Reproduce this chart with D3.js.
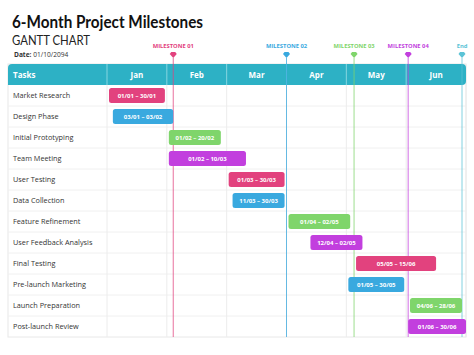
<!DOCTYPE html>
<html>
<head>
<meta charset="utf-8">
<script src="https://cdn.jsdelivr.net/npm/d3@7"></script>
<style>
  body { margin: 0; background: #fff; }
  svg { display: block; font-family: "Open Sans", sans-serif; }
</style>
</head>
<body>
<div id="chart"></div>
<script>
// data
var months = ["Jan", "Feb", "Mar", "Apr", "May", "Jun"];
var tasks = ["Market Research", "Design Phase", "Initial Prototyping", "Team Meeting",
  "User Testing", "Data Collection", "Feature Refinement", "User Feedback Analysis",
  "Final Testing", "Pre-launch Marketing", "Launch Preparation", "Post-launch Review"];
var starts = ["01/01", "03/01", "01/02", "01/02", "01/03", "11/03", "01/04", "12/04", "05/05", "01/05", "04/06", "01/06"];
var ends = ["30/01", "03/02", "20/02", "10/03", "30/03", "30/03", "02/05", "02/05", "15/06", "30/05", "28/06", "30/06"];
var barColors = ["pink", "blue", "green", "purple", "pink", "blue", "green", "purple", "pink", "blue", "green", "purple"];
var milestones = ["MILESTONE 01", "MILESTONE 02", "MILESTONE 03", "MILESTONE 04", "End"];
var milestoneDates = ["04/02", "01/04", "05/05", "02/06", "29/06"];
var milestoneColors = ["pink", "blue", "green", "purple", "teal"];

var palette = {
  pink: "#e2427e",
  blue: "#39a9df",
  green: "#7fd56b",
  purple: "#c23fde",
  teal: "#5bc3d6"
};

var width = 474, height = 355;
var tableLeft = 8, tableRight = 466, taskColW = 99;
var headerTop = 64, headerH = 21, rowH = 21;
var minBarW = 52;
var year = 2094;

var svg = d3.select("#chart").append("svg")
  .attr("width", width)
  .attr("height", height);

// "dd/mm" -> fractional month position (months drawn equal width)
function monthPos(s, endOfDay) {
  var p = s.split("/");
  var d = +p[0], m = +p[1] - 1;
  var days = new Date(year, m + 1, 0).getDate();
  return m + (d - (endOfDay ? 0 : 1)) / days;
}

var x = d3.scaleLinear()
  .domain([0, months.length])
  .range([tableLeft + taskColW, tableRight]);

var y = d3.scaleBand()
  .domain(tasks)
  .range([headerTop + headerH, headerTop + headerH + tasks.length * rowH]);

var bodyBottom = headerTop + headerH + tasks.length * rowH;

// bar extents, short bars are widened so the label fits
function barExtent(i) {
  var x0 = x(monthPos(starts[i], false)) + 2;
  var x1 = x(monthPos(ends[i], true));
  if (x1 - x0 < minBarW) {
    var p = ends[i].split("/");
    var lastDay = new Date(year, +p[1], 0).getDate();
    if (lastDay - +p[0] <= 3) x0 = x1 - minBarW;
    else x1 = x0 + minBarW;
  }
  return [x0, x1];
}

// titles
svg.append("text")
  .attr("x", 12).attr("y", 28)
  .attr("font-family", "Lato, sans-serif")
  .attr("font-size", 16.5).attr("font-weight", 700)
  .attr("fill", "#111")
  .attr("textLength", 191).attr("lengthAdjust", "spacingAndGlyphs")
  .text("6-Month Project Milestones");
svg.append("text")
  .attr("x", 12).attr("y", 45)
  .attr("font-family", "Lato, sans-serif")
  .attr("font-size", 14).attr("fill", "#222")
  .attr("textLength", 78).attr("lengthAdjust", "spacingAndGlyphs")
  .text("GANTT CHART");
var dt = svg.append("text")
  .attr("x", 14).attr("y", 56.5)
  .attr("font-size", 6.6).attr("fill", "#333");
dt.append("tspan").attr("font-weight", 700).text("Date: ");
dt.append("tspan").text("01/10/2094");

// table body
svg.append("rect")
  .attr("x", tableLeft).attr("y", headerTop)
  .attr("width", tableRight - tableLeft).attr("height", bodyBottom - headerTop)
  .attr("fill", "#fff").attr("stroke", "#e8e8e8");

svg.selectAll(".row-line")
  .data(tasks.slice(1))
  .enter().append("line")
  .attr("x1", tableLeft).attr("x2", tableRight)
  .attr("y1", function (d) { return y(d); })
  .attr("y2", function (d) { return y(d); })
  .attr("stroke", "#f0f0f0");

svg.selectAll(".col-line")
  .data(d3.range(months.length + 1))
  .enter().append("line")
  .attr("x1", function (d) { return x(d); })
  .attr("x2", function (d) { return x(d); })
  .attr("y1", headerTop).attr("y2", bodyBottom)
  .attr("stroke", "#ececec");

// header
svg.append("rect")
  .attr("x", tableLeft).attr("y", headerTop)
  .attr("width", tableRight - tableLeft).attr("height", headerH)
  .attr("rx", 4)
  .attr("fill", "#2db1c5");
svg.append("rect")
  .attr("x", tableLeft).attr("y", headerTop + headerH - 5)
  .attr("width", tableRight - tableLeft - 6).attr("height", 5)
  .attr("fill", "#2db1c5");

svg.selectAll(".hdr-sep")
  .data(d3.range(months.length))
  .enter().append("line")
  .attr("x1", function (d) { return x(d); })
  .attr("x2", function (d) { return x(d); })
  .attr("y1", headerTop).attr("y2", headerTop + headerH)
  .attr("stroke", "#86d5e0").attr("stroke-width", 1);

svg.append("text")
  .attr("x", 13).attr("y", headerTop + 13.5)
  .attr("font-size", 8).attr("font-weight", 700).attr("fill", "#fff")
  .text("Tasks");

svg.selectAll(".month")
  .data(months)
  .enter().append("text")
  .attr("x", function (d, i) { return (x(i) + x(i + 1)) / 2; })
  .attr("y", headerTop + 13.5)
  .attr("text-anchor", "middle")
  .attr("font-size", 8).attr("font-weight", 700).attr("fill", "#fff")
  .text(function (d) { return d; });

// task names
svg.selectAll(".task")
  .data(tasks)
  .enter().append("text")
  .attr("x", 13)
  .attr("y", function (d) { return y(d) + y.bandwidth() / 2 + 2.8; })
  .attr("font-size", 7.3).attr("fill", "#333")
  .text(function (d) { return d; });

// milestones
var ms = svg.selectAll(".milestone")
  .data(milestones)
  .enter().append("g")
  .attr("transform", function (d, i) {
    return "translate(" + x(monthPos(milestoneDates[i], false)) + ",0)";
  });

ms.append("line")
  .attr("y1", 58).attr("y2", bodyBottom)
  .attr("stroke", function (d, i) { return palette[milestoneColors[i]]; })
  .attr("stroke-width", 1)
  .attr("opacity", 0.75);

ms.append("text")
  .attr("y", 48)
  .attr("text-anchor", "middle")
  .attr("font-size", 5.8).attr("font-weight", 700)
  .attr("fill", function (d, i) { return palette[milestoneColors[i]]; })
  .text(function (d) { return d; });

ms.append("path")
  .attr("d", "M-3.5,-1.5 L-2,-3.5 L2,-3.5 L3.5,-1.5 L0,2.5 Z")
  .attr("transform", "translate(0,55.5)")
  .attr("fill", function (d, i) { return palette[milestoneColors[i]]; });

// bars
var bars = svg.selectAll(".bar")
  .data(tasks)
  .enter().append("g");

bars.append("rect")
  .attr("x", function (d, i) { return barExtent(i)[0]; })
  .attr("y", function (d) { return y(d) + 3; })
  .attr("width", function (d, i) { var e = barExtent(i); return e[1] - e[0]; })
  .attr("height", y.bandwidth() - 6)
  .attr("rx", 2.5)
  .attr("fill", function (d, i) { return palette[barColors[i]]; });

bars.append("text")
  .attr("x", function (d, i) { var e = barExtent(i); return (e[0] + e[1]) / 2; })
  .attr("y", function (d) { return y(d) + y.bandwidth() / 2 + 2.3; })
  .attr("text-anchor", "middle")
  .attr("font-size", 6).attr("font-weight", 700).attr("fill", "#fff")
  .text(function (d, i) { return starts[i] + " – " + ends[i]; });
</script>
</body>
</html>
